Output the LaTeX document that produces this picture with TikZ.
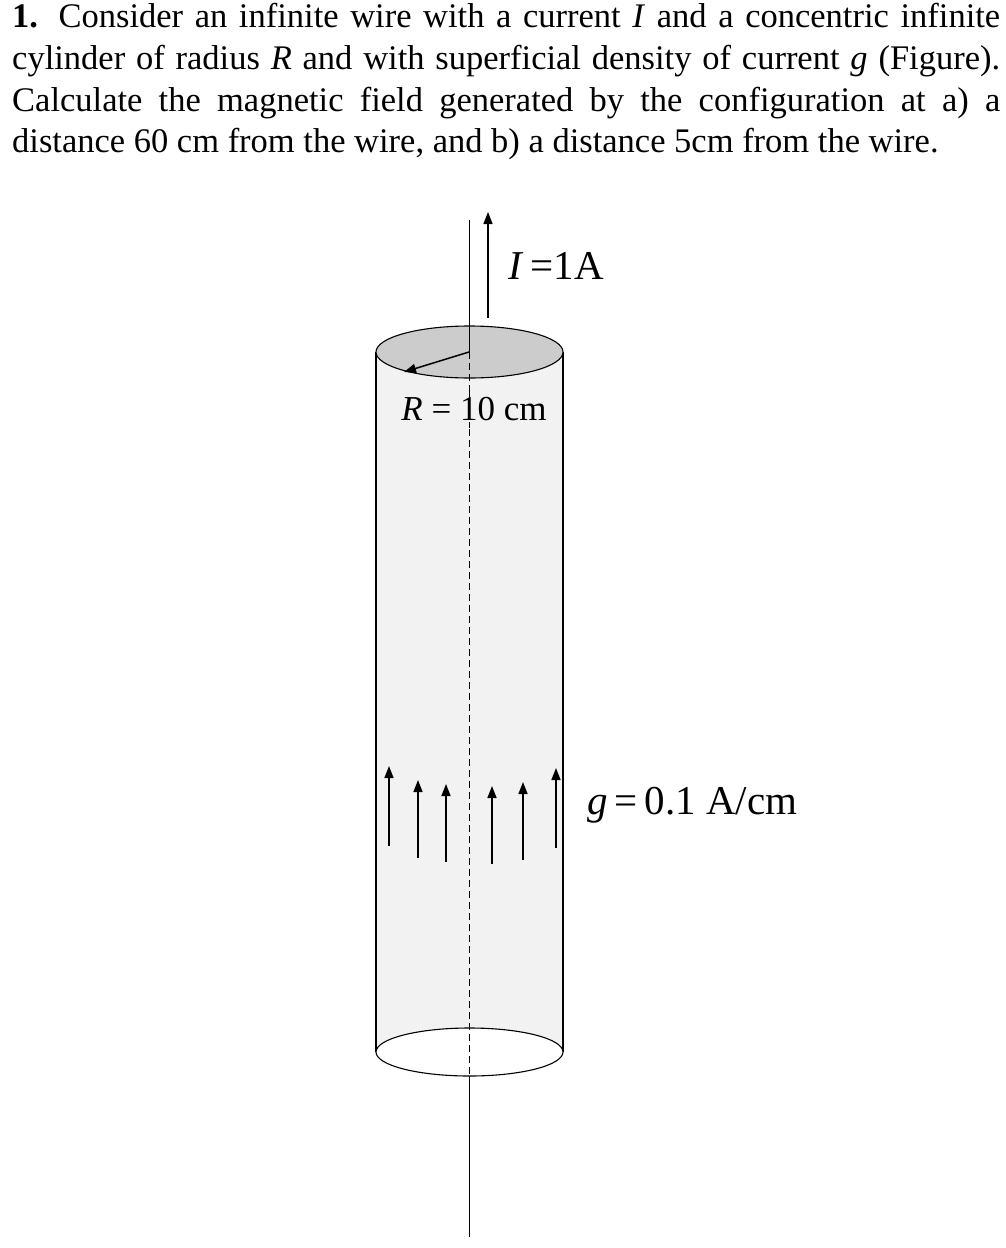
\documentclass[tikz,border=0pt]{standalone}
\usepackage{fontspec}
\setmainfont{Liberation Serif}
\usetikzlibrary{arrows.meta}
\begin{document}
\begin{tikzpicture}[x=1pt,y=-1pt,
  cur/.style={-{Triangle[length=12pt,width=9pt]},line width=1.5pt},
  wire/.style={line width=0.7pt}]
\useasboundingbox (0,0) rectangle (1006,1248);
\node[anchor=north west,inner sep=0pt,text width=988pt,align=justify,font=\fontsize{34.5}{41.8}\selectfont] (txt) at (12,3)
{\textbf{1.} Consider an infinite wire with a current \textit{I} and a concentric infinite\linebreak cylinder of radius \textit{R} and with superficial density of current \textit{g} (Figure).\linebreak Calculate the magnetic field generated by the configuration at a) a\linebreak distance 60 cm from the wire, and b) a distance 5cm from the wire.};
% cylinder body
\fill[gray!10] (376,352) -- (376,1052) arc[start angle=180,end angle=360,x radius=93.5,y radius=24] -- (563,352) -- cycle;
\draw[line width=1.1pt] (376,352) -- (376,1052);
\draw[line width=1.1pt] (563,352) -- (563,1052);
\draw[line width=1.1pt,fill=white] (469.5,1052) ellipse[x radius=93.5,y radius=24];
\draw[line width=1.1pt,fill=gray!40] (469.5,352) ellipse[x radius=93.5,y radius=26];
% wire
\coordinate (wtop) at (469,220);
\coordinate (wc) at (469,352);
\coordinate (wb) at (469,1076);
\coordinate (wend) at (469,1237);
\draw[wire] (wtop) -- (wc);
\draw[wire,dashed,dash pattern=on 7pt off 4pt] (wc) -- (wb);
\draw[wire] (wb) -- (wend);
% current arrow
\coordinate (ia) at (488,318);
\coordinate (ib) at (488,212);
\draw[cur] (ia) -- (ib);
\node[anchor=west,font=\fontsize{41}{41}\selectfont] (ilab) at (505,266) {\textit{I}\,=1A};
% radius
\coordinate (rr) at (404,372);
\draw[cur] (wc) -- (rr);
\node[font=\fontsize{35}{35}\selectfont,fill=gray!10,inner sep=1pt] (rlab) at (474,409) {\textit{R} = 10 cm};
\draw[wire,dashed,dash pattern=on 7pt off 4pt] (469,390) -- (469,428);
% surface current arrows
\foreach \x/\b/\t [count=\i] in {389/846/766,418/858/780,446/862/784,492/864/786,523/860/782,556/848/768}{
  \coordinate (s\i) at (\x,\b); \coordinate (e\i) at (\x,\t);
  \draw[cur] (s\i) -- (e\i);
}
\node[anchor=west,font=\fontsize{41}{41}\selectfont] (glab) at (584,805) {\textit{g}\,=\,0.1 A/cm};
\end{tikzpicture}
\end{document}
